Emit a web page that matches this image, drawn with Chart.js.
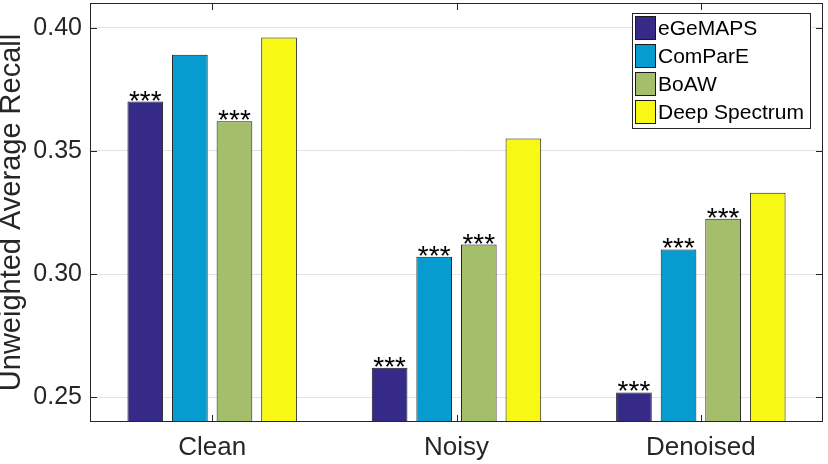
<!DOCTYPE html>
<html>
<head>
<meta charset="utf-8">
<script src="https://cdn.jsdelivr.net/npm/chart.js@4"></script>
<style>
  html, body { margin: 0; padding: 0; background: #ffffff; }
  #wrap { width: 828px; height: 464px; }
</style>
</head>
<body>
<div id="wrap"><canvas id="c" width="828" height="464"></canvas></div>
<script>
// ---- data ----
const categories = ["Clean", "Noisy", "Denoised"];
const seriesNames = ["eGeMAPS", "ComParE", "BoAW", "Deep Spectrum"];
const eGeMAPS = [0.370, 0.262, 0.252];
const ComParE = [0.389, 0.307, 0.310];
const BoAW = [0.362, 0.312, 0.3225];
const DeepSpectrum = [0.396, 0.355, 0.333];
// significance markers (*** shown above bar)
const sigEGeMAPS = [true, true, true];
const sigComParE = [false, true, true];
const sigBoAW = [true, true, true];
const sigDeepSpectrum = [false, false, false];
const yTicks = [0.25, 0.30, 0.35, 0.40];
const yMin = 0.24, yMax = 0.41;

const colors = ["#352a87", "#079cd0", "#a5be6b", "#f7f814"];
const seriesValues = [eGeMAPS, ComParE, BoAW, DeepSpectrum];
const seriesSig = [sigEGeMAPS, sigComParE, sigBoAW, sigDeepSpectrum];

const FONT = "'Liberation Sans', Arial, Helvetica, sans-serif";
const INK = "#262626";

const decorPlugin = {
  id: 'decor',
  afterDatasetsDraw(chart) {
    const ctx = chart.ctx;
    const a = chart.chartArea;
    const ys = chart.scales.y, xs = chart.scales.x;
    ctx.save();
    // stars
    ctx.fillStyle = "#000";
    ctx.font = "28px " + FONT;
    ctx.textAlign = "center";
    ctx.textBaseline = "alphabetic";
    chart.data.datasets.forEach((ds, di) => {
      const meta = chart.getDatasetMeta(di);
      meta.data.forEach((el, i) => {
        if (seriesSig[di][i]) ctx.fillText("***", el.x, el.y + 8);
      });
    });
    // box
    ctx.strokeStyle = INK;
    ctx.lineWidth = 1;
    ctx.strokeRect(Math.round(a.left) + 0.5, Math.round(a.top) + 0.5,
      Math.round(a.right - a.left) - 1, Math.round(a.bottom - a.top) - 1);
    // inward ticks
    ctx.beginPath();
    yTicks.forEach(v => {
      const y = Math.round(ys.getPixelForValue(v)) + 0.5;
      ctx.moveTo(a.left, y); ctx.lineTo(a.left + 7, y);
      ctx.moveTo(a.right, y); ctx.lineTo(a.right - 7, y);
    });
    categories.forEach((c, i) => {
      const x = Math.round(xs.getPixelForValue(i)) + 0.5;
      ctx.moveTo(x, a.bottom); ctx.lineTo(x, a.bottom - 7);
      ctx.moveTo(x, a.top); ctx.lineTo(x, a.top + 7);
    });
    ctx.stroke();
    // legend
    const lx = 632, ly = 13, lw = 178, lh = 115;
    ctx.fillStyle = "#fff";
    ctx.fillRect(lx, ly, lw, lh);
    ctx.strokeStyle = INK;
    ctx.strokeRect(lx + 0.5, ly + 0.5, lw, lh);
    ctx.font = "21px " + FONT;
    ctx.textAlign = "left";
    ctx.textBaseline = "middle";
    chart.data.datasets.forEach((ds, di) => {
      const sy = ly + 3 + di * 28;
      ctx.fillStyle = ds.backgroundColor;
      ctx.fillRect(lx + 3, sy, 20, 23);
      ctx.strokeStyle = "#1a1a1a";
      ctx.strokeRect(lx + 3.5, sy + 0.5, 20, 23);
      ctx.fillStyle = "#000";
      ctx.fillText(ds.label, lx + 26, sy + 13);
    });
    ctx.restore();
  }
};

new Chart(document.getElementById('c'), {
  type: 'bar',
  data: {
    labels: categories,
    datasets: seriesNames.map((n, i) => ({
      label: n,
      data: seriesValues[i],
      backgroundColor: colors[i],
      borderColor: "#1a1a1a",
      borderWidth: 1,
      categoryPercentage: 0.73,
      barPercentage: 0.8
    }))
  },
  options: {
    responsive: false,
    animation: false,
    devicePixelRatio: 1,
    layout: { padding: { top: 3, right: 5, left: 0, bottom: 0 } },
    plugins: { legend: { display: false }, tooltip: { enabled: false } },
    scales: {
      x: {
        grid: { display: false, drawTicks: false },
        border: { display: false },
        ticks: { color: INK, font: { family: FONT, size: 26 }, padding: 10, maxRotation: 0 },
        afterFit(s) { s.height = 42; s.paddingLeft = 0; s.paddingRight = 0; }
      },
      y: {
        min: yMin, max: yMax,
        grid: { color: "#e3e3e3", drawTicks: false },
        border: { display: false },
        afterBuildTicks(s) { s.ticks = yTicks.map(v => ({ value: v })); },
        ticks: { color: INK, font: { family: FONT, size: 25 }, padding: 8,
                 callback: v => Number(v).toFixed(2) },
        title: { display: true, text: "Unweighted Average Recall", color: INK,
                 font: { family: FONT, size: 29 }, padding: { top: -5, bottom: 0 } },
        afterFit(s) { s.width = 90; s.paddingTop = 0; s.paddingBottom = 0; }
      }
    }
  },
  plugins: [decorPlugin]
});
</script>
</body>
</html>
